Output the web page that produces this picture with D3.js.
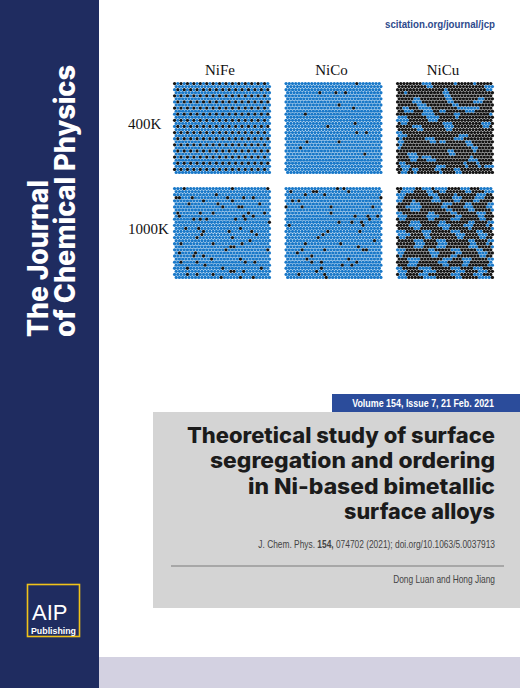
<!DOCTYPE html>
<html>
<head>
<meta charset="utf-8">
<script src="https://cdn.jsdelivr.net/npm/d3@7"></script>
<style>
	html,body{margin:0;padding:0;background:#fff;}
	svg{display:block;}
</style>
</head>
<body>
<div id="cover"></div>
<script>
// column / row headers of the figure
var alloys = ["NiFe", "NiCo", "NiCu"];
var temps = ["400K", "1000K"];

// "." = Ni site (blue), "#" = solute site (black); 30 x 30 hexagonal sites
var nife400 = [
	"#.#.#.#.#.#.#.#.#.#.#.#.#.#.#.",
	"..............................",
	".#.#.#.#.#.#.#.#.#.#.#.#.#.#.#",
	"..............................",
	"#.#.#.#.#.#.#.#.#.#.#.#.#.#.#.",
	"..............................",
	".#.#.#.#.#.#.#.#.#.#.#.#.#.#.#",
	"..............................",
	"#.#.#.#.#.#.#.#.#.#.#.#.#.#.#.",
	"..............................",
	".#.#.#.#.#.#.#.#.#.#.#.#.#.#.#",
	"..............................",
	"#.#.#.#.#.#.#.#.#.#.#.#.#.#.#.",
	"..............................",
	".#.#.#.#.#.#.#.#.#.#.#.#.#.#.#",
	"..............................",
	"#.#.#.#.#.#.#.#.#.#.#.#.#.#.#.",
	"..............................",
	".#.#.#.#.#.#.#.#.#.#.#.#.#.#.#",
	"..............................",
	"#.#.#.#.#.#.#.#.#.#.#.#.#.#.#.",
	"..............................",
	".#.#.#.#.#.#.#.#.#.#.#.#.#.#.#",
	"..............................",
	"#.#.#.#.#.#.#.#.#.#.#.#.#.#.#.",
	"..............................",
	".#.#.#.#.#.#.#.#.#.#.#.#.#.#.#",
	"..............................",
	"#.#.#.#.#.#.#.#.#.#.#.#.#.#.#.",
	".............................."
];

// sparse panels: [row, col] of the black solute sites
var nife1000 = [
	[0,3],[0,18],[0,29],[2,13],[3,0],[3,1],[3,5],[3,16],[3,21],[3,24],[4,9],[4,18],
	[5,4],[5,13],[5,26],[6,15],[6,20],[6,21],[8,1],[8,8],[8,12],[8,23],[8,28],[9,1],
	[9,21],[9,24],[10,6],[10,8],[10,10],[10,19],[10,22],[11,29],[13,3],[13,7],[13,20],
	[14,9],[14,17],[14,24],[15,8],[15,25],[16,7],[16,18],[17,23],[18,2],[18,12],[18,21],
	[19,17],[19,18],[20,16],[20,29],[21,1],[21,6],[22,6],[22,9],[23,11],[23,20],[24,2],
	[24,7],[24,22],[24,25],[25,9],[26,4],[26,15],[26,27],[27,17],[27,18],[27,21],[28,4],
	[28,7],[28,12],[29,14],[29,20],[29,24]
];
var nico400 = [
	[0,22],[3,10],[3,15],[3,18],[7,16],[8,21],[10,6],[13,21],[14,13],[16,22],[16,25],
	[19,6],[19,16],[21,4],[23,24]
];
var nico1000 = [
	[0,16],[0,18],[1,1],[1,8],[1,9],[1,19],[2,6],[2,12],[3,29],[4,2],[4,4],[6,0],[6,5],
	[6,14],[6,27],[8,14],[9,21],[9,25],[9,28],[10,26],[11,16],[11,20],[11,23],[12,1],
	[12,24],[14,13],[14,23],[15,11],[16,10],[17,27],[18,6],[18,17],[19,22],[20,5],[20,12],
	[20,24],[20,25],[21,3],[22,8],[23,6],[23,19],[24,8],[24,11],[24,22],[25,17],[25,20],
	[26,11],[27,9],[28,4],[28,12],[29,12]
];

var nicu400 = [
	"########...#######.#####.#####",
	"#########..################...",
	"###############.############..",
	"##.###########..##############",
	"###############..#############",
	"#####..########..########..###",
	"#####...########..######...###",
	"######...########..###########",
	"##..###....########.......####",
	"##...###...##..######...######",
	"########....######..#########.",
	"...######....#####.###########",
	"....######...#################",
	"#..###########...#########...#",
	"#####...#######...#########..#",
	"######..#######..#############",
	"..############################",
	"...################...########",
	"#.#######...######...#########",
	"..########..#..######..#######",
	"#.####################..######",
	".######################..#####",
	"################..######.#####",
	"###...##########..############",
	"####...#...############.######",
	"####..###...##########...#####",
	"#..##################.###.####",
	"#...########...######.###.#...",
	"##..#..#####..####..##########",
	"#..##.#######.####..##########"
];
var nicu1000 = [
	"##....##...#....####...###....",
	"#....####..##..######..####...",
	"...#######...#####.######...##",
	"..#########..####...####...###",
	"..###.#####...####..####..####",
	"####...#######...####..#####..",
	"###.....######..#####...####..",
	"####...########..#####..#####.",
	"..########..#####..######...##",
	"...######....#####..#####..###",
	"#..#######..#####...######..##",
	"####...######..#######..####..",
	"####....#####....####...####.#",
	"#####..#######..######.######.",
	"...#####...######...#####..###",
	"....####..########...####...##",
	"#..######..########..#####..##",
	"#####...####...#######..####..",
	"######...####...#######..###.#",
	"#####...####...#######...####.",
	"...#######..#####...#####..###",
	"..########...#####..#####...##",
	"#.#########..####..#######..##",
	"###....#######...###...#####..",
	"####...######...#####..######.",
	"###...########..####..######..",
	"..#####....######...####...###",
	"...#####....######...####...##",
	"#..####...#######...####...###",
	"...#####....######..#####....#"
];

// cover texts
var journalLines = ["The Journal", "of Chemical Physics"];
var titleLines = ["Theoretical study of surface", "segregation and ordering", "in Ni-based bimetallic", "surface alloys"];
var volumeText = "Volume 154, Issue 7, 21 Feb. 2021";
var citeParts = ["J. Chem. Phys. ", "154,", " 074702 (2021); doi.org/10.1063/5.0037913"];
var authorsText = "Dong Luan and Hong Jiang";
var siteText = "scitation.org/journal/jcp";

var NSIZE = 30;

function sitesToRows(sites){
	var grid = [];
	for (var r = 0; r < NSIZE; r++){ grid.push(new Array(NSIZE).fill(".")); }
	sites.forEach(function(s){ grid[s[0]][s[1]] = "#"; });
	return grid.map(function(g){ return g.join(""); });
}

// squeeze a right-aligned text horizontally to a given width
function fitWidth(g, x, y, width){
	var w = g.select("text").node().getComputedTextLength();
	g.attr("transform", "translate(" + x + "," + y + ") scale(" + (width / w) + ",1)");
}

var panels = [
	{alloy:"NiFe", temp:"400K",  rows:nife400},
	{alloy:"NiCo", temp:"400K",  rows:sitesToRows(nico400)},
	{alloy:"NiCu", temp:"400K",  rows:nicu400},
	{alloy:"NiFe", temp:"1000K", rows:sitesToRows(nife1000)},
	{alloy:"NiCo", temp:"1000K", rows:sitesToRows(nico1000)},
	{alloy:"NiCu", temp:"1000K", rows:nicu1000}
];

var W = 520, H = 688;
var svg = d3.select("#cover").append("svg")
	.attr("width", W)
	.attr("height", H);

svg.append("rect").attr("width", W).attr("height", H).attr("fill", "#fff");

// left band + bottom strip
svg.append("rect")
	.attr("x", 0).attr("y", 0)
	.attr("width", 99).attr("height", H)
	.attr("fill", "#1f2c60");
svg.append("rect")
	.attr("x", 99).attr("y", 657)
	.attr("width", W - 99).attr("height", H - 657)
	.attr("fill", "#d3d1e1");

// journal name, rotated
svg.selectAll("text.journal")
	.data(journalLines)
	.enter()
	.append("text")
	.attr("class", "journal")
	.attr("transform", function(d, i){ return "translate(" + [48, 75][i] + ",337) rotate(-90)"; })
	.attr("textLength", function(d, i){ return [157, 272][i]; })
	.attr("lengthAdjust", "spacingAndGlyphs")
	.style("font-family", "Inter, 'Open Sans', sans-serif")
	.style("font-weight", 800)
	.style("font-size", "28px")
	.attr("fill", "#fff")
	.text(function(d){ return d; });

// AIP logo
svg.append("rect")
	.attr("x", 27.5).attr("y", 584.5)
	.attr("width", 52).attr("height", 52)
	.attr("fill", "none")
	.attr("stroke", "#f0c31a")
	.attr("stroke-width", 1.6);
svg.append("text")
	.attr("x", 32).attr("y", 620)
	.style("font-family", "'Liberation Sans', Arial, sans-serif")
	.style("font-size", "22px")
	.attr("fill", "#fff")
	.text("AIP");
svg.append("text")
	.attr("x", 31).attr("y", 633.5)
	.attr("textLength", 45)
	.attr("lengthAdjust", "spacingAndGlyphs")
	.style("font-family", "'Liberation Sans Narrow', 'Liberation Sans', sans-serif")
	.style("font-weight", 700)
	.style("font-size", "9px")
	.attr("fill", "#fff")
	.text("Publishing");

svg.append("text")
	.attr("x", 495).attr("y", 28)
	.attr("text-anchor", "end")
	.attr("textLength", 110)
	.attr("lengthAdjust", "spacingAndGlyphs")
	.style("font-family", "'Liberation Sans', Arial, sans-serif")
	.style("font-weight", 700)
	.style("font-size", "10.5px")
	.attr("fill", "#2e4a8c")
	.text(siteText);

// lattice panels
var xBand = d3.scaleBand().domain(alloys).range([173, 494]).paddingInner(0.121);
var yBand = d3.scaleBand().domain(temps).range([82, 279]).paddingInner(0.124);
var colX = d3.scaleLinear().domain([0, NSIZE + 0.5]).range([0, xBand.bandwidth()]);
var rowY = d3.scaleLinear().domain([0, NSIZE]).range([0, yBand.bandwidth()]);
var siteColor = d3.scaleOrdinal().domain([".", "#"]).range(["#1a79c9", "#141414"]);

var panelG = svg.selectAll("g.panel")
	.data(panels)
	.enter()
	.append("g")
	.attr("class", "panel")
	.attr("transform", function(d){ return "translate(" + xBand(d.alloy) + "," + yBand(d.temp) + ")"; });

panelG.selectAll("circle")
	.data(function(d){
		var cells = [];
		d.rows.forEach(function(row, r){
			row.split("").forEach(function(ch, c){ cells.push({r:r, c:c, k:ch}); });
		});
		return cells;
	})
	.enter()
	.append("circle")
	.attr("cx", function(d){ return colX(d.c + 0.5 + (d.r % 2) * 0.5); })
	.attr("cy", function(d){ return rowY(d.r + 0.5); })
	.attr("r", 1.65)
	.attr("fill", function(d){ return siteColor(d.k); });

svg.selectAll("text.alloy")
	.data(alloys)
	.enter()
	.append("text")
	.attr("class", "alloy")
	.attr("x", function(d){ return xBand(d) + xBand.bandwidth() / 2 - 2; })
	.attr("y", 75)
	.attr("text-anchor", "middle")
	.style("font-family", "'Liberation Serif', 'Times New Roman', serif")
	.style("font-size", "15px")
	.attr("fill", "#111")
	.text(function(d){ return d; });

svg.selectAll("text.temp")
	.data(temps)
	.enter()
	.append("text")
	.attr("class", "temp")
	.attr("x", 128)
	.attr("y", function(d){ return yBand(d) + yBand.bandwidth() / 2 + 1; })
	.style("font-family", "'Liberation Serif', 'Times New Roman', serif")
	.style("font-size", "15px")
	.attr("fill", "#111")
	.text(function(d){ return d; });

// article box
svg.append("rect")
	.attr("x", 153).attr("y", 412)
	.attr("width", W - 153).attr("height", 196)
	.attr("fill", "#d4d4d4");
svg.append("rect")
	.attr("x", 332).attr("y", 394)
	.attr("width", W - 332).attr("height", 18)
	.attr("fill", "#2b4c9b");

var volG = svg.append("g");
volG.append("text")
	.attr("text-anchor", "end")
	.style("font-family", "'Liberation Sans', Arial, sans-serif")
	.style("font-weight", 700)
	.style("font-size", "11px")
	.attr("fill", "#fff")
	.text(volumeText);
fitWidth(volG, 494, 406.5, 142);

svg.selectAll("text.title")
	.data(titleLines)
	.enter()
	.append("text")
	.attr("class", "title")
	.attr("x", 495)
	.attr("y", function(d, i){ return [443, 468, 494, 519][i]; })
	.attr("text-anchor", "end")
	.attr("textLength", function(d, i){ return [308, 285, 247, 151][i]; })
	.attr("lengthAdjust", "spacingAndGlyphs")
	.style("font-family", "Inter, 'Open Sans', sans-serif")
	.style("font-weight", 800)
	.style("font-size", "21px")
	.attr("fill", "#1b1b1b")
	.text(function(d){ return d; });

var citeG = svg.append("g");
var cite = citeG.append("text")
	.attr("text-anchor", "end")
	.style("font-family", "'Liberation Sans', Arial, sans-serif")
	.style("font-size", "10.5px")
	.attr("fill", "#444");
cite.selectAll("tspan")
	.data(citeParts)
	.enter()
	.append("tspan")
	.style("font-weight", function(d, i){ return i === 1 ? 700 : 400; })
	.text(function(d){ return d; });
fitWidth(citeG, 495, 548, 237);

svg.append("line")
	.attr("x1", 171).attr("x2", 504)
	.attr("y1", 566).attr("y2", 566)
	.attr("stroke", "#7a7a7a")
	.attr("stroke-width", 1);

var authG = svg.append("g");
authG.append("text")
	.attr("text-anchor", "end")
	.style("font-family", "'Liberation Sans', Arial, sans-serif")
	.style("font-size", "10.5px")
	.attr("fill", "#444")
	.text(authorsText);
fitWidth(authG, 495, 583, 102);
</script>
</body>
</html>
